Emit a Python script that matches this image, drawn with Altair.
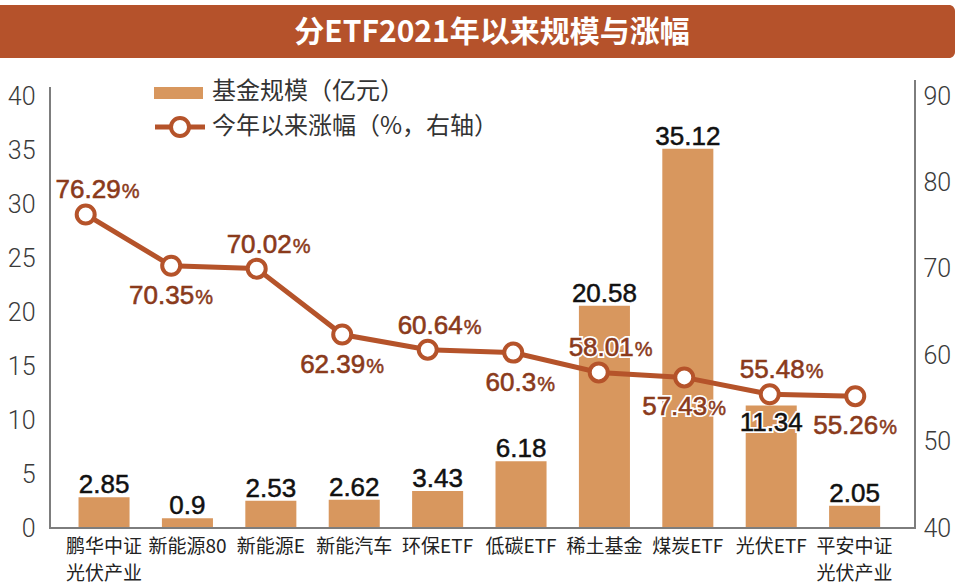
import altair as alt
import pandas as pd

# ---- data ----
funds = ["鹏华中证光伏产业", "新能源80", "新能源E", "新能汽车", "环保ETF",
         "低碳ETF", "稀土基金", "煤炭ETF", "光伏ETF", "平安中证光伏产业"]
fund_size = [2.85, 0.9, 2.53, 2.62, 3.43, 6.18, 20.58, 35.12, 11.34, 2.05]   # 亿元
ytd_return = [76.29, 70.35, 70.02, 62.39, 60.64, 60.3, 58.01, 57.43, 55.48, 55.26]  # %
left_ticks = [0, 5, 10, 15, 20, 25, 30, 35, 40]
right_ticks = [40, 50, 60, 70, 80, 90]
title_text = "分ETF2021年以来规模与涨幅"
legend_labels = ["基金规模（亿元）", "今年以来涨幅（%，右轴）"]

BAR = "#d8975e"
LINE = "#b5532a"
PCT = "#8a3a1b"
HEAD = "#b5522b"
AXIS = "#7d7d7d"
NUM_FONT = "Liberation Sans"
TICK_FONT = "Roboto"
CJK = "Noto Sans CJK SC"
CAT_FONT = "'Liberation Sans Narrow', 'Noto Sans CJK SC'"

df = pd.DataFrame({"fund": funds, "size": fund_size, "ret": ytd_return})
df["idx"] = range(len(df))
df["size_txt"] = [str(v) for v in fund_size]
df["ret_txt"] = [str(v) for v in ytd_return]
df["pct_sign"] = "%"

W, H = 865, 432

# ---- bars on the left axis ----
x_bar = alt.X(
    "fund:N", sort=funds,
    scale=alt.Scale(paddingInner=0.388, paddingOuter=0.38, align=0.45),
    axis=alt.Axis(
        title=None, labelAngle=0, domain=False, ticks=False, grid=False,
        labelFont=CAT_FONT, labelFontSize=19, labelColor="#222",
        labelPadding=9, labelLineHeight=27, labelBaseline="top",
        labelExpr="length(datum.label) > 6 ? [substring(datum.label, 0, 4), substring(datum.label, 4)] : datum.label",
    ),
)
y_bar = alt.Y(
    "size:Q",
    scale=alt.Scale(domain=[0, 40], nice=False, zero=True),
    axis=alt.Axis(
        title=None, values=left_ticks, orient="left", domain=False, ticks=False,
        grid=False, labelFont=TICK_FONT, labelFontWeight=300, labelFontSize=25,
        labelColor="#3a3a3a", labelPadding=15,
    ),
)

base_bar = alt.Chart(df).encode(x=x_bar, y=y_bar)
bars = base_bar.mark_bar(color=BAR)
bar_labels = base_bar.transform_filter("datum.fund != '光伏ETF'").mark_text(
    baseline="alphabetic", dy=-4, font=NUM_FONT, fontSize=26, color="#111",
    stroke="#111", strokeWidth=0.5
).encode(text="size_txt:N")
# the label of 光伏ETF sits on the top of its bar, with a white halo
inner = base_bar.transform_filter("datum.fund == '光伏ETF'")
inner_halo = inner.mark_text(
    baseline="alphabetic", dy=25, font=NUM_FONT, fontSize=26,
    color="white", stroke="white", strokeWidth=4
).encode(text="size_txt:N")
inner_text = inner.mark_text(
    baseline="alphabetic", dy=25, font=NUM_FONT, fontSize=26, color="#111",
    stroke="#111", strokeWidth=0.5
).encode(text="size_txt:N")

bar_layer = alt.layer(bars, bar_labels, inner_halo, inner_text)

# ---- return line on the right axis ----
x_line = alt.X("fund:N", sort=funds,
               scale=alt.Scale(type="point", padding=0.558, align=0.374), axis=None)
y_line = alt.Y(
    "ret:Q",
    scale=alt.Scale(domain=[40, 90], nice=False, zero=False),
    axis=alt.Axis(
        title=None, values=right_ticks, orient="right", domain=False, ticks=False,
        grid=False, labelFont=TICK_FONT, labelFontWeight=300, labelFontSize=25,
        labelColor="#3a3a3a", labelPadding=8,
    ),
)
base_line = alt.Chart(df).encode(x=x_line, y=y_line)
line = base_line.mark_line(color=LINE, strokeWidth=5)
dots = base_line.mark_point(shape="circle", filled=True, fill="white", stroke=LINE,
                            strokeWidth=4, size=324, opacity=1)


def pct_labels(parity, dx, dy):
    part = base_line.transform_filter(f"datum.idx % 2 == {parity}")
    layers = []
    for halo in (True, False):
        colour = "white" if halo else PCT
        sw = 4 if halo else 0.6
        num = part.mark_text(align="right", baseline="alphabetic", dx=dx, dy=dy,
                             font=NUM_FONT, fontSize=26, color=colour,
                             stroke=colour, strokeWidth=sw).encode(text="ret_txt:N")
        sign = part.mark_text(align="left", baseline="alphabetic", dx=dx + 1, dy=dy,
                              font=NUM_FONT, fontSize=20, color=colour,
                              stroke=colour, strokeWidth=sw * 0.8).encode(text="pct_sign:N")
        layers += [num, sign]
    return layers


line_layer = alt.layer(line, dots, *pct_labels(0, 35, -16), *pct_labels(1, 23, 38))

# ---- frame, heading bar and legend ----
one = pd.DataFrame({"t": [title_text]})
leg = pd.DataFrame({"t": legend_labels})

frame = [
    alt.Chart(one).mark_rule(color=AXIS, strokeWidth=2).encode(
        x=alt.value(0), y=alt.value(-9), y2=alt.value(H + 1)),
    alt.Chart(one).mark_rule(color=AXIS, strokeWidth=2).encode(
        x=alt.value(W), y=alt.value(-16), y2=alt.value(H + 1)),
    alt.Chart(one).mark_rule(color=AXIS, strokeWidth=2).encode(
        x=alt.value(0), x2=alt.value(W), y=alt.value(H)),
]

heading = [
    alt.Chart(one).mark_rect(color=HEAD, cornerRadiusTopRight=6, cornerRadiusBottomRight=6).encode(
        x=alt.value(-50), x2=alt.value(905), y=alt.value(-91), y2=alt.value(-38)),
    alt.Chart(one).mark_text(font=CJK, fontSize=30, fontWeight="bold", color="white",
                             align="center", baseline="middle").encode(
        text="t:N", x=alt.value(442), y=alt.value(-63)),
]

legend = [
    alt.Chart(one).mark_rect(color=BAR).encode(
        x=alt.value(104), x2=alt.value(153), y=alt.value(-9), y2=alt.value(3)),
    alt.Chart(leg).transform_filter(f"datum.t == '{legend_labels[0]}'").mark_text(
        font=CJK, fontSize=24, color="#333", align="left", baseline="middle").encode(
        text="t:N", x=alt.value(162), y=alt.value(-4)),
    alt.Chart(one).mark_rule(color=LINE, strokeWidth=5).encode(
        x=alt.value(105), x2=alt.value(155), y=alt.value(31)),
    alt.Chart(one).mark_point(shape="circle", filled=True, fill="white", stroke=LINE,
                              strokeWidth=4, size=324, opacity=1).encode(
        x=alt.value(130), y=alt.value(31)),
    alt.Chart(leg).transform_filter(f"datum.t == '{legend_labels[1]}'").mark_text(
        font=CJK, fontSize=24, color="#333", align="left", baseline="middle").encode(
        text="t:N", x=alt.value(162), y=alt.value(31)),
]

chart = alt.layer(
    bar_layer, *frame, line_layer, *heading, *legend
).resolve_scale(
    x="independent", y="independent"
).properties(
    width=W, height=H,
    autosize=alt.AutoSizeParams(type="none"),
    padding={"left": 50, "top": 96, "right": 45, "bottom": 60},
    background="white",
).configure_view(stroke=None)

chart.save("out.html", embed_options={"renderer": "svg", "actions": False})
